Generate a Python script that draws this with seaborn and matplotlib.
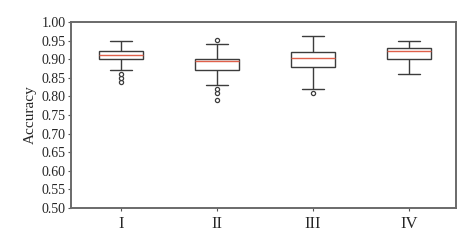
import pandas as pd
import numpy as np
import matplotlib
matplotlib.use("Agg")
import matplotlib.pyplot as plt
import seaborn as sns

# Accuracy samples per setting (17 runs each):
# fliers, whisker ends, quartiles and medians match the picture
groups = ['I', 'II', 'III', 'IV']
acc_I = [0.84, 0.85, 0.86, 0.87, 0.90, 0.90, 0.91, 0.91, 0.912,
         0.915, 0.92, 0.92, 0.921, 0.93, 0.94, 0.94, 0.95]
acc_II = [0.79, 0.81, 0.82, 0.83, 0.871, 0.88, 0.88, 0.89, 0.894,
          0.895, 0.90, 0.90, 0.90, 0.91, 0.93, 0.94, 0.953]
acc_III = [0.81, 0.82, 0.84, 0.86, 0.88, 0.88, 0.89, 0.90, 0.902,
           0.91, 0.91, 0.92, 0.92, 0.93, 0.94, 0.95, 0.962]
acc_IV = [0.86, 0.87, 0.88, 0.89, 0.90, 0.91, 0.91, 0.92, 0.922,
          0.925, 0.93, 0.93, 0.93, 0.94, 0.94, 0.95, 0.95]

data = pd.DataFrame({
    'Setting': np.repeat(groups, 17),
    'Accuracy': acc_I + acc_II + acc_III + acc_IV,
})

sns.set_style("white")
plt.rcParams['font.family'] = ['Liberation Serif', 'DejaVu Serif']

fig = plt.figure(figsize=(4.74, 2.45), dpi=100)
ax = fig.add_axes([0.150, 0.151, 0.812, 0.759])

edge = '#3c3c3c'
sns.boxplot(data=data, x='Setting', y='Accuracy', ax=ax, width=0.46,
            whis=1.6, color='white', linecolor=edge, linewidth=1.0,
            medianprops=dict(color='#e0604a', linewidth=1.0),
            flierprops=dict(marker='o', markersize=3, markerfacecolor='white',
                            markeredgecolor=edge, markeredgewidth=0.9))

ax.set_ylim(0.5, 1.0)
ax.set_xlim(-0.52, 3.49)
ax.set_yticks(np.arange(0.5, 1.0001, 0.05))
ax.set_yticklabels([f'{v:.2f}' for v in np.arange(0.5, 1.0001, 0.05)])
ax.set_xlabel('')
ax.set_ylabel('Accuracy', fontsize=11, labelpad=3)
ax.tick_params(axis='y', labelsize=10, length=2, width=0.8, color='#555555',
               direction='out', left=True, pad=2)
ax.tick_params(axis='x', labelsize=12, length=2, width=0.8, color='#555555',
               direction='out', bottom=True, pad=4)
for s in ax.spines.values():
    s.set_color('#6a6a6a')
    s.set_linewidth(1.4)

fig.savefig('out.png', dpi=100)
